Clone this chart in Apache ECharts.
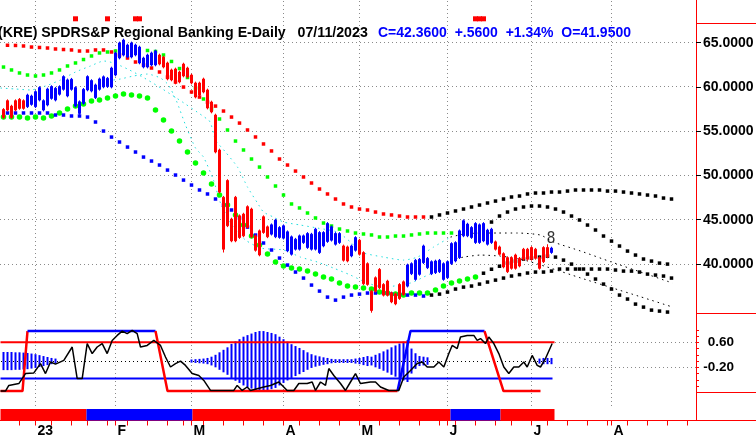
<!DOCTYPE html>
<html>
<head>
<meta charset="utf-8">
<script src="https://cdn.jsdelivr.net/npm/echarts@6/dist/echarts.min.js"></script>
<style>
html,body{margin:0;padding:0;background:#fff;}
#chart{width:756px;height:439px;}
</style>
</head>
<body>
<div id="chart"></div>
<script>
// bar index 0 = 12/20/2022, 137 = 07/11/2023, axis runs on to 173 (projection)
var monthBars   = [8, 28, 47, 70, 89, 111, 132, 152];
var monthLabels = ['23', 'F', 'M', 'A', 'M', 'J', 'J', 'A'];
var weekTicks   = [4, 8, 12, 17, 21, 26, 28, 31, 36, 41, 45, 47, 50, 55, 60, 65, 70, 74, 79, 84, 89, 94, 99, 104,
                   109, 111, 113, 118, 123, 127, 132, 136, 141, 146, 151, 152, 156, 161, 166, 171];
var priceTicks  = [40, 45, 50, 55, 60, 65];
var oscTicks    = [-0.8, -0.6, -0.4, -0.2, 0, 0.2, 0.4, 0.6, 0.8, 1.0];
var oscLabels   = [0.6, -0.2];

var openPrice = [57.46,58.45,57.84,58.45,58.60,58.45,57.77,58.03,57.77,58.52,
  57.39,57.96,58.71,58.52,59.17,59.73,58.98,59.73,57.84,57.01,
  58.14,59.66,59.54,58.79,59.73,60.00,60.04,59.99,61.35,63.27,
  63.60,63.38,63.38,63.61,62.71,62.25,62.25,62.48,62.48,63.61,
  63.38,62.71,61.92,62.03,61.69,62.59,62.14,61.35,60.45,60.45,
  60.90,59.66,58.30,56.83,52.88,47.54,49.43,45.08,47.54,45.45,
  45.64,46.48,46.21,43.18,43.75,45.34,44.20,43.37,43.07,43.00,
  42.92,41.48,41.10,41.67,41.67,42.42,41.86,41.67,41.67,41.29,
  42.04,42.54,42.69,42.23,42.42,42.04,41.93,40.91,41.55,42.69,
  41.29,40.04,36.93,38.45,39.39,37.69,38.07,36.74,36.63,37.69,
  37.99,37.50,38.90,38.26,38.83,40.15,39.58,38.90,39.02,39.13,
  38.26,38.45,40.04,40.34,40.72,43.18,43.18,42.99,42.42,42.42,
  42.61,42.23,42.42,42.50,41.93,41.17,40.72,40.72,41.02,40.64,
  41.67,41.67,41.86,41.67,40.72,41.86,41.86,41.30];
var closePrice = [56.55,57.39,56.55,57.39,57.58,57.58,59.09,58.98,59.47,59.93,
  58.45,59.77,60.04,59.85,60.04,61.17,60.80,60.87,59.93,58.33,
  59.73,61.17,60.72,60.23,60.91,61.15,60.98,62.14,63.84,64.97,
  65.30,64.74,64.97,64.74,64.51,63.27,63.61,63.84,64.06,62.59,
  62.25,60.90,60.79,60.45,60.56,61.24,61.12,60.45,58.86,59.09,
  59.43,57.62,57.17,52.65,48.13,41.67,44.32,42.61,42.61,42.99,
  43.18,44.13,43.07,41.55,41.02,43.56,43.07,44.43,44.96,44.13,
  44.32,43.64,43.07,42.80,43.18,43.18,43.45,43.37,43.94,43.56,
  43.56,44.58,44.20,43.45,43.45,40.42,40.34,42.04,42.99,41.10,
  37.77,37.69,34.75,36.93,37.31,36.48,36.48,35.72,35.49,36.10,
  36.55,39.89,40.04,40.42,40.53,42.04,40.64,40.26,40.34,40.42,
  40.04,40.26,42.31,42.42,43.75,44.89,44.51,44.13,44.58,44.43,
  44.58,43.83,43.94,41.67,41.10,39.66,39.13,39.51,39.51,39.77,
  40.53,40.53,40.53,40.64,39.51,40.26,40.80,41.80];
var highPrice = [57.61,58.60,57.99,58.60,58.75,58.60,59.24,59.13,59.62,60.08,
  58.60,59.92,60.19,60.00,60.19,61.32,60.95,61.02,60.08,58.48,
  59.88,61.32,60.87,60.38,61.06,61.30,61.13,62.29,63.99,65.12,
  65.45,64.89,65.12,64.89,64.66,63.42,63.76,63.99,64.21,63.76,
  63.53,62.86,62.07,62.18,61.84,62.74,62.29,61.50,60.60,60.60,
  61.05,59.81,58.45,56.98,53.03,47.69,49.58,45.23,47.69,45.60,
  45.79,46.63,46.36,43.33,43.90,45.49,44.35,44.58,45.11,44.28,
  44.47,43.79,43.22,42.95,43.33,43.33,43.60,43.52,44.09,43.71,
  43.71,44.73,44.35,43.60,43.60,42.19,42.08,42.19,43.14,42.84,
  41.44,40.19,37.08,38.60,39.54,37.84,38.22,36.89,36.78,37.84,
  38.14,40.04,40.19,40.57,40.68,42.19,40.79,40.41,40.49,40.57,
  40.19,40.41,42.46,42.57,43.90,45.04,44.66,44.28,44.73,44.58,
  44.73,43.98,44.09,42.65,42.08,41.32,40.87,40.87,41.17,40.79,
  41.82,41.82,42.01,41.82,40.87,42.01,42.23,41.95];
var lowPrice = [56.40,57.24,56.40,57.24,57.43,57.43,57.62,57.88,57.62,58.37,
  57.24,57.81,58.56,58.37,59.02,59.58,58.83,59.58,57.69,56.86,
  57.99,59.51,59.39,58.64,59.58,59.85,59.89,59.84,61.20,63.12,
  63.45,63.23,63.23,63.46,62.56,62.10,62.10,62.33,62.33,62.44,
  62.10,60.75,60.64,60.30,60.41,61.09,60.97,60.30,58.71,58.94,
  59.28,57.47,57.02,52.50,47.98,41.30,44.17,42.46,42.46,42.84,
  43.03,43.98,42.92,41.40,40.87,43.41,42.92,43.22,42.92,42.85,
  42.77,41.33,40.95,41.52,41.52,42.27,41.71,41.52,41.52,41.14,
  41.89,42.39,42.54,42.08,42.27,40.27,40.19,40.76,41.40,40.95,
  37.62,37.54,34.50,36.78,37.16,36.33,36.33,35.57,35.34,35.95,
  36.40,37.35,38.75,38.11,38.68,40.00,39.43,38.75,38.87,38.98,
  38.11,38.30,39.89,40.19,40.57,43.03,43.03,42.84,42.27,42.27,
  42.46,42.08,42.27,41.52,40.95,39.51,38.98,39.36,39.36,39.62,
  40.38,40.38,40.38,40.49,39.36,40.11,40.65,41.15];

// channel lines: [bar, price]
var upperOuter = [[1,64.71],[3,64.69],[5,64.63],[7,64.51],[9,64.46],[11,64.40],[13,64.29],[15,64.23],[17,64.18],[19,64.06],
  [21,64.06],[23,64.18],[25,64.18],[27,63.95],[29,63.61],[31,63.27],[33,62.82],[35,62.48],[37,62.14],[39,61.69],
  [41,61.12],[43,60.56],[45,59.99],[47,59.43],[49,58.86],[51,58.29],[53,57.84],[55,57.28],[57,56.60],[59,55.92],
  [61,55.14],[63,54.35],[65,53.56],[67,52.77],[69,51.86],[71,51.18],[73,50.50],[75,49.83],[77,49.15],[79,48.47],
  [81,47.91],[83,47.34],[85,46.78],[87,46.44],[89,46.21],[91,46.10],[93,45.87],[95,45.65],[97,45.54],[99,45.42],
  [101,45.31],[103,45.31],[105,45.31]];
var upperOuterProj = [[107,45.31],[109,45.54],[111,45.76],[113,45.99],[115,46.21],[117,46.44],[119,46.66],[121,46.89],
  [123,47.11],[125,47.34],[127,47.57],[129,47.68],[131,47.91],[133,48.02],[135,48.02],[137,48.13],[139,48.13],[141,48.24],
  [143,48.36],[145,48.36],[147,48.36],[149,48.36],[151,48.24],[153,48.24],[155,48.13],[157,48.02],[159,47.91],[161,47.79],
  [163,47.68],[165,47.45],[167,47.34]];
var upperInner = [[0,62.25],[2,61.92],[4,61.58],[6,61.35],[8,61.24],[10,61.35],[12,61.58],[14,61.92],[16,62.37],[18,62.71],
  [20,63.10],[22,63.50],[24,63.84],[26,63.95],[28,64.06],[36,64.12],[38,64.01],[40,63.61],[42,62.88],[44,62.08],
  [46,61.07],[48,59.88],[50,58.64],[52,57.51],[54,56.38],[56,55.14],[58,53.89],[60,52.88],[62,51.86],[64,50.95],
  [66,49.83],[68,48.81],[70,47.79],[72,46.78],[74,46.33],[76,45.76],[78,45.20],[80,44.63],[82,44.29],[84,43.95],
  [86,43.73],[88,43.50],[90,43.39],[92,43.28],[94,43.05],[96,43.05],[98,43.16],[100,43.16],[102,43.28],[104,43.39],
  [106,43.50],[108,43.50],[110,43.50],[112,43.50]];
var upperInnerProj = [[122,44.74],[124,45.42],[126,45.87],[128,46.21],[130,46.44],[132,46.55],[134,46.55],[136,46.44],
  [138,46.21],[140,45.87],[142,45.42],[144,44.97],[146,44.40],[148,43.84],[150,43.16],[152,42.59],[154,42.03],[156,41.46],
  [158,41.01],[160,40.56],[162,40.33],[164,40.10],[166,39.99]];
var lowerInner = [[0,56.60],[2,56.60],[4,56.60],[6,56.49],[8,56.60],[10,56.49],[12,56.72],[14,57.06],[16,57.51],[18,57.85],
  [20,58.07],[22,58.41],[24,58.53],[26,58.75],[28,58.98],[30,59.20],[32,59.09],[34,58.98],[36,58.75],[38,57.40],
  [40,56.27],[42,55.02],[44,53.89],[46,52.65],[48,51.41],[50,50.28],[52,49.03],[54,47.79],[56,46.66],[58,45.53],
  [60,44.40],[62,43.16],[64,42.14],[66,41.12],[68,40.22],[70,39.77],[72,39.54],[74,39.43],[76,39.20],[78,38.86],
  [80,38.52],[82,38.30],[84,37.85],[86,37.51],[88,37.39],[90,37.28],[92,37.17],[94,36.83],[96,36.72],[98,36.60],
  [100,36.49],[102,36.72],[104,36.72],[106,36.72],[108,37.06],[110,37.51],[112,37.85],[114,38.07],[116,38.30],[118,38.52]];
var lowerInnerProj = [[120,38.96],[122,39.41],[124,39.75],[126,40.10],[128,40.33],[130,40.56],[132,40.67],[134,40.78],
  [136,40.89],[138,40.78],[140,40.44],[142,39.99],[144,39.43],[146,38.86],[148,38.30],[150,37.73],[152,37.17],[154,36.49],
  [156,36.04],[158,35.47],[160,35.13],[162,34.79],[164,34.68],[166,34.57]];
var lowerOuter = [[1,57.06],[3,57.06],[5,57.06],[7,57.06],[9,57.06],[11,57.06],[13,56.83],[15,56.83],[17,56.72],[19,56.72],
  [21,56.60],[23,56.04],[25,55.02],[27,54.34],[29,53.78],[31,53.21],[33,52.65],[35,52.08],[37,51.63],[39,51.18],
  [41,50.61],[43,50.05],[45,49.48],[47,48.92],[49,48.36],[51,47.91],[53,47.34],[55,46.66],[57,46.10],[59,45.19],
  [61,44.17],[63,43.27],[65,42.37],[67,41.58],[69,40.67],[71,39.88],[73,39.09],[75,38.41],[77,37.62],[79,36.94],
  [81,36.26],[83,35.92],[85,36.26],[87,36.49],[89,36.60],[91,36.72],[93,36.72],[95,36.72],[97,36.60],[99,36.60],
  [101,36.49],[103,36.49],[105,36.38]];
var lowerOuterProj = [[107,36.49],[109,36.60],[111,36.83],[113,37.17],[115,37.39],[117,37.51],[119,37.73],[121,37.96],
  [123,38.18],[125,38.41],[127,38.64],[129,38.80],[131,38.98],[133,39.09],[135,39.09],[137,39.20],[139,39.43],[141,39.43],
  [143,39.43],[145,39.43],[147,39.43],[149,39.43],[151,39.43],[153,39.32],[155,39.20],[157,39.20],[159,39.09],[161,38.86],
  [163,38.75],[165,38.64],[167,38.41]];
var thinUpper = [[-0.75,59.88],[3,59.77],[6.75,59.66],[10.5,60.11],[14.25,60.79],[18,61.69],[21.75,62.37],[25,62.93],
  [51.25,56.27],[53,54.01],[55.5,52.65],[58.5,50.95],[61,48.69],[63.5,46.89],[65,45.87],[67.5,45.30],[70,44.74],
  [74.25,44.40],[78.5,44.06],[83.5,43.61],[86.75,42.48],[89.25,41.35],[95,40.78],[100,40.44],[103.5,40.78],
  [107.5,41.91],[111.75,43.04]];
var thinUpperProj = [[111.75,43.04],[115,43.38],[119.25,43.50],[123.5,43.50],[128.5,43.50],[134.25,43.27],[137.5,42.48],
  [144.25,41.47],[151.75,40.26],[159.25,39.10],[167.25,37.85]];
var thinLower = [[27.5,60.79],[29.25,60.90],[32.5,61.24],[36,61.46],[39.25,61.01],[41.25,60.22],[43.25,58.41],[45.5,55.70],
  [48,53.10],[50,52.08],[52.5,49.48],[54.25,46.89],[57.25,44.29],[60.5,42.71],[64.25,41.80],[70,41.58],[74.25,40.78],
  [78.5,40.22],[82.5,39.54],[86.75,38.75],[91,37.85],[95,37.39],[101.75,37.85],[105,38.52],[108.5,39.31],[111.75,40.44]];
var thinLowerProj = [[111.75,40.44],[115,40.78],[119.25,41.01],[124.25,40.89],[129.25,40.56],[136,39.65],[144.25,38.43],
  [151.75,37.36],[159.25,36.30],[167.25,35.14]];

var signalBars = [18, 26, 33, 34, 118, 119, 120];
var signalLevel = 67.7;
var countLabel = {bar: 136.9, price: 42.82, text: '8'};

// lower oscillator panel
var histAmp = [[0,0.29],[1,0.29],[2,0.29],[3,0.28],[4,0.28],[5,0.27],[6,0.26],[7,0.24],[8,0.22],[9,0.19],[10,0.16],
  [11,0.13],[12,0.10],[13,0.08],
  [47,0.05],[48,0.06],[49,0.07],[50,0.08],[51,0.10],[52,0.14],[53,0.20],[54,0.28],[55,0.36],[56,0.44],[57,0.55],
  [58,0.63],[59,0.70],[60,0.78],[61,0.83],[62,0.88],[63,0.93],[64,0.96],[65,0.96],[66,0.93],[67,0.90],[68,0.86],
  [69,0.78],[70,0.70],[71,0.62],[72,0.54],[73,0.48],[74,0.42],[75,0.35],[76,0.28],[77,0.22],[78,0.18],[79,0.15],
  [80,0.12],[81,0.10],[82,0.07],[83,0.06],[84,0.06],[85,0.06],[86,0.06],[87,0.06],[88,0.08],[89,0.10],[90,0.13],
  [91,0.16],[92,0.14],[93,0.20],[94,0.25],[95,0.31],[96,0.37],[97,0.44],[98,0.50],[99,0.56],[100,0.62],[101,0.67],
  [102,0.40],[103,0.25],[104,0.16],[105,0.14],[106,0.12],
  [134,0.08],[135,0.10],[136,0.10],[137,0.10]];
var oscLine = [[-0.75,-0.96],[0.5,-0.96],[1.33,-0.78],[3.83,-0.72],[5.5,-0.40],[7.58,-0.38],[9.25,-0.08],[10.5,-0.40],
  [11.75,-0.03],[13,-0.10],[15.08,0.02],[17.17,0.45],[18.42,-0.56],[19.67,-0.56],[20.92,0.56],[22.17,0.24],[23.42,0.45],
  [24.67,0.56],[25.92,0.24],[27.17,0.66],[28.42,0.82],[29.67,0.96],[30.92,0.88],[32.17,0.98],[33.42,0.88],[34.25,0.45],
  [35.92,0.50],[37.58,0.66],[39.25,0.50],[40.5,0.13],[41.75,-0.19],[43,-0.08],[44.25,0.0],[45.5,-0.14],[47.17,-0.40],
  [48.83,-0.46],[50.08,-0.62],[51.75,-0.94],[57.58,-0.94],[58.42,-0.78],[59.67,-0.94],[60.92,-0.83],[61.75,-0.94],
  [65.08,-0.83],[66.75,-0.78],[68.83,-0.67],[70.92,-0.94],[72.58,-0.94],[73.83,-0.72],[75.92,-0.72],[77.17,-0.67],
  [78,-0.94],[79.25,-0.67],[80.5,-0.78],[81.33,-0.24],[82.58,-0.46],[84.25,-0.72],[85.5,-0.94],[86.75,-0.67],[88,-0.40],
  [89.25,-0.72],[91.75,-0.67],[93,-0.67],[94.25,-0.83],[96.33,-0.94],[98.83,-0.94],[100.08,-0.51],[101.75,-0.30],
  [103.42,-0.08],[104.67,-0.03],[105.92,-0.19],[107.58,-0.19],[108.83,-0.03],[110.08,-0.19],[111.33,0.24],[112.17,0.50],
  [113.42,0.40],[114.25,0.77],[115.92,0.82],[117.58,0.82],[118.42,0.66],[119.25,0.72],[120.5,0.56],[121.33,0.77],
  [122.58,0.56],[123.83,0.24],[125.08,-0.19],[126.33,-0.40],[127.58,-0.19],[128.83,-0.19],[130.08,-0.03],[130.92,-0.19],
  [132.17,0.18],[133.42,-0.14],[134.25,-0.19],[135.5,0.08],[137.17,0.56]];
var stateDown1 = [[-0.75,-0.96],[4.75,-0.96],[6,0.96]];
var stateUp1   = [[6,0.96],[38,0.96]];
var stateDown2 = [[38,0.96],[41,-0.96],[98.5,-0.96]];
var stateUp2   = [[98.5,-0.96],[101.75,0.96],[120.25,0.96]];
var stateDown3 = [[120.25,0.96],[125,-0.96],[134.25,-0.96]];
var upperLevel = [[-0.75,0.6],[137.75,0.6]];
var lowerLevel = [[-0.75,-0.56],[137.25,-0.56]];
var zeroLevel  = [[-0.75,0],[137,0]];

// trend band at the bottom
var bandStart = [-0.75, 20.75, 47.25, 111.75, 124.25];
var bandEnd   = [20.75, 47.25, 111.75, 124.25, 137.75];
var bandColor = ['#ff0000', '#0000ff', '#ff0000', '#0000ff', '#ff0000'];

var RED = '#ff0000', BLUE = '#0000ff', GREEN = '#00ff00', CYAN = '#22dddd', GRID = '#8a8a8a';
var FONT = 'Liberation Sans, Arial, sans-serif';
var X_MIN = -0.875, X_MAX = 173.125;

var chart = echarts.init(document.getElementById('chart'));

var candles = openPrice.map(function (o, i) {
  return [i, o, closePrice[i], lowPrice[i], highPrice[i]];
});

function dots(data, color, size, symbol) {
  return {
    type: 'scatter', xAxisIndex: 0, yAxisIndex: 0, data: data,
    symbol: symbol || 'rect', symbolSize: size, silent: true, z: 2,
    itemStyle: {color: color, opacity: 1}
  };
}
function thin(data, color) {
  return {
    type: 'line', xAxisIndex: 0, yAxisIndex: 0, data: data, showSymbol: false, smooth: 0.2, silent: true, z: 1,
    lineStyle: {color: color, width: 1, type: [1.5, 4]}
  };
}
function lowLine(data, color, width, z) {
  return {
    type: 'line', xAxisIndex: 1, yAxisIndex: 1, data: data, showSymbol: false, silent: true, z: z || 3,
    lineStyle: {color: color, width: width}
  };
}
function histBar(sign) {
  return {
    type: 'bar', xAxisIndex: 1, yAxisIndex: 1, stack: 'hist', barWidth: 2, silent: true, z: 1,
    itemStyle: {color: BLUE, opacity: 1},
    data: histAmp.map(function (p) { return [p[0], sign * p[1]]; })
  };
}

// dotted grid lines: each item is [x1, y1, x2, y2] in data units, drawn as 1px dots every 4px
function dottedSeries(xi, yi, segs, color) {
  return {
    type: 'custom', xAxisIndex: xi, yAxisIndex: yi, data: segs, silent: true, z: 0,
    renderItem: function (params, api) {
      var a = api.coord([api.value(0), api.value(1)]);
      var b = api.coord([api.value(2), api.value(3)]);
      var kids = [], k;
      if (Math.abs(a[0] - b[0]) < 0.5) {
        var x = Math.floor(a[0]);
        var y0 = Math.min(a[1], b[1]), y1 = Math.max(a[1], b[1]);
        for (k = Math.ceil(y0); k < y1; k += 4) {
          kids.push({type: 'rect', shape: {x: x, y: k, width: 1, height: 1}, style: {fill: color}});
        }
      } else {
        var y = Math.floor(a[1]);
        var x0 = Math.min(a[0], b[0]), x1 = Math.max(a[0], b[0]);
        for (k = Math.ceil(x0); k < x1; k += 4) {
          kids.push({type: 'rect', shape: {x: k, y: y, width: 1, height: 1}, style: {fill: color}});
        }
      }
      return {type: 'group', children: kids};
    }
  };
}
var priceGrid = monthBars.map(function (b) { return [b, 34.465, b, 69.824]; })
  .concat(priceTicks.map(function (p) { return [X_MIN, p, X_MAX, p]; }));
var oscGrid = monthBars.map(function (b) { return [b, -1.534, b, 1.538]; })
  .concat(oscLabels.map(function (v) { return [137.75, v, X_MAX, v]; }));
var zeroDots = [[zeroLevel[0][0], zeroLevel[0][1], zeroLevel[1][0], zeroLevel[1][1]]];

chart.setOption({
  animation: false,
  backgroundColor: '#fff',
  title: [
    {text: '(KRE) SPDRS&P Regional Banking E-Daily   07/11/2023', left: -2, top: 26, padding: 0,
     textStyle: {fontFamily: FONT, fontSize: 14.2, fontWeight: 'bold', color: '#000'}},
    {text: 'C=42.3600  +.5600  +1.34%  O=41.9500', left: 378, top: 26, padding: 0,
     textStyle: {fontFamily: FONT, fontSize: 14, fontWeight: 'bold', color: BLUE}}
  ],
  grid: [
    {left: 0, right: 60, top: 0, height: 313, containLabel: false, outerBoundsMode: 'none'},
    {left: 0, right: 60, top: 313, height: 96, containLabel: false, outerBoundsMode: 'none'},
    {left: 0, right: 60, top: 409, height: 11.5, containLabel: false, outerBoundsMode: 'none'}
  ],
  xAxis: [
    {type: 'value', gridIndex: 0, min: X_MIN, max: X_MAX, show: false},
    {type: 'value', gridIndex: 1, min: X_MIN, max: X_MAX, show: false},
    {
      type: 'value', gridIndex: 2, min: X_MIN, max: X_MAX, position: 'bottom',
      axisLine: {show: true, onZero: false, lineStyle: {color: RED, width: 1}},
      axisTick: {show: true, length: 5, inside: false, customValues: weekTicks, lineStyle: {color: RED}},
      axisLabel: {show: true, customValues: monthBars, margin: 4, align: 'left', padding: [0, 0, 0, 2],
        fontFamily: FONT, fontSize: 14, fontWeight: 'bold', color: '#000',
        formatter: function (v) { return monthLabels[monthBars.indexOf(v)]; }},
      splitLine: {show: false}
    }
  ],
  yAxis: [
    {
      type: 'value', gridIndex: 0, position: 'right', min: 34.465, max: 69.824,
      axisLine: {show: true, onZero: false, lineStyle: {color: RED, width: 1}},
      axisTick: {show: true, length: 5, customValues: priceTicks, lineStyle: {color: '#000'}},
      axisLabel: {customValues: priceTicks, margin: 7, fontFamily: FONT, fontSize: 14, fontWeight: 'bold', color: '#000',
        formatter: function (v) { return v.toFixed(4); }},
      splitLine: {show: false}
    },
    {
      type: 'value', gridIndex: 1, position: 'right', min: -1.534, max: 1.538,
      axisLine: {show: true, onZero: false, lineStyle: {color: RED, width: 1}},
      axisTick: {show: true, length: 3, customValues: oscTicks, lineStyle: {color: RED}},
      axisLabel: {customValues: oscLabels, margin: 38, align: 'right', fontFamily: FONT, fontSize: 13.5,
        fontWeight: 'bold', color: '#000', formatter: function (v) { return v.toFixed(2); }},
      splitLine: {show: false}
    },
    {
      type: 'value', gridIndex: 2, position: 'right', min: 0, max: 1,
      axisLine: {show: true, onZero: false, lineStyle: {color: RED, width: 1}},
      axisTick: {show: false}, axisLabel: {show: false}, splitLine: {show: false}
    }
  ],
  graphic: [
    {type: 'line', z: 10, shape: {x1: 696, y1: 23.5, x2: 756, y2: 23.5}, style: {stroke: RED, lineWidth: 1}},
    {type: 'line', z: 10, shape: {x1: 696, y1: 313.5, x2: 756, y2: 313.5}, style: {stroke: RED, lineWidth: 1}},
    {type: 'line', z: 10, shape: {x1: 696, y1: 392.5, x2: 756, y2: 392.5}, style: {stroke: RED, lineWidth: 1}},
    {type: 'line', z: 10, shape: {x1: 696, y1: 420.5, x2: 756, y2: 420.5}, style: {stroke: RED, lineWidth: 1}}
  ],
  series: [
    dottedSeries(0, 0, priceGrid, GRID),
    dottedSeries(1, 1, oscGrid, GRID),
    thin(thinUpper, CYAN),
    thin(thinLower, CYAN),
    thin(thinUpperProj, '#000'),
    thin(thinLowerProj, '#000'),
    dots(upperOuter, RED, 3.5),
    dots(upperOuterProj, '#000', 3.5),
    dots(upperInner, GREEN, 3.5),
    dots(upperInnerProj, '#000', 3.5),
    dots(lowerInner, GREEN, 5.5, 'circle'),
    dots(lowerInnerProj, '#000', 3.5),
    dots(lowerOuter, BLUE, 3.5),
    dots(lowerOuterProj, '#000', 3.5),
    {
      type: 'candlestick', xAxisIndex: 0, yAxisIndex: 0, data: candles, z: 3, barWidth: 2,
      encode: {x: 0, y: [1, 2, 3, 4]}, silent: true,
      itemStyle: {color: BLUE, color0: RED, borderColor: BLUE, borderColor0: RED, borderWidth: 1, opacity: 1}
    },
    {
      type: 'scatter', xAxisIndex: 0, yAxisIndex: 0, symbol: 'rect', symbolSize: [5, 5], z: 4, silent: true,
      itemStyle: {color: RED, opacity: 1},
      data: signalBars.map(function (b) { return [b, signalLevel]; })
    },
    {
      type: 'scatter', xAxisIndex: 0, yAxisIndex: 0, symbolSize: 0, z: 5, silent: true,
      data: [[countLabel.bar, countLabel.price]],
      label: {show: true, position: 'inside', formatter: countLabel.text, color: '#000',
        fontFamily: 'DejaVu Sans Mono, monospace', fontSize: 15}
    },
    // lower panel
    histBar(1),
    histBar(-1),
    dottedSeries(1, 1, zeroDots, '#000'),
    lowLine(upperLevel, RED, 2, 2),
    lowLine(lowerLevel, BLUE, 2, 2),
    lowLine(stateDown1, RED, 2.5),
    lowLine(stateUp1, BLUE, 2.5),
    lowLine(stateDown2, RED, 2.5),
    lowLine(stateUp2, BLUE, 2.5),
    lowLine(stateDown3, RED, 2.5),
    lowLine(oscLine, '#000', 1.5, 4),
    // trend band
    {
      type: 'custom', xAxisIndex: 2, yAxisIndex: 2, silent: true,
      data: bandStart.map(function (s, i) { return [s, bandEnd[i]]; }),
      encode: {x: [0, 1]},
      renderItem: function (params, api) {
        var p1 = api.coord([api.value(0), 1]);
        var p2 = api.coord([api.value(1), 0]);
        return {type: 'rect', shape: {x: p1[0], y: p1[1], width: p2[0] - p1[0], height: p2[1] - p1[1]},
          style: {fill: bandColor[params.dataIndex]}};
      }
    }
  ]
});
</script>
</body>
</html>
